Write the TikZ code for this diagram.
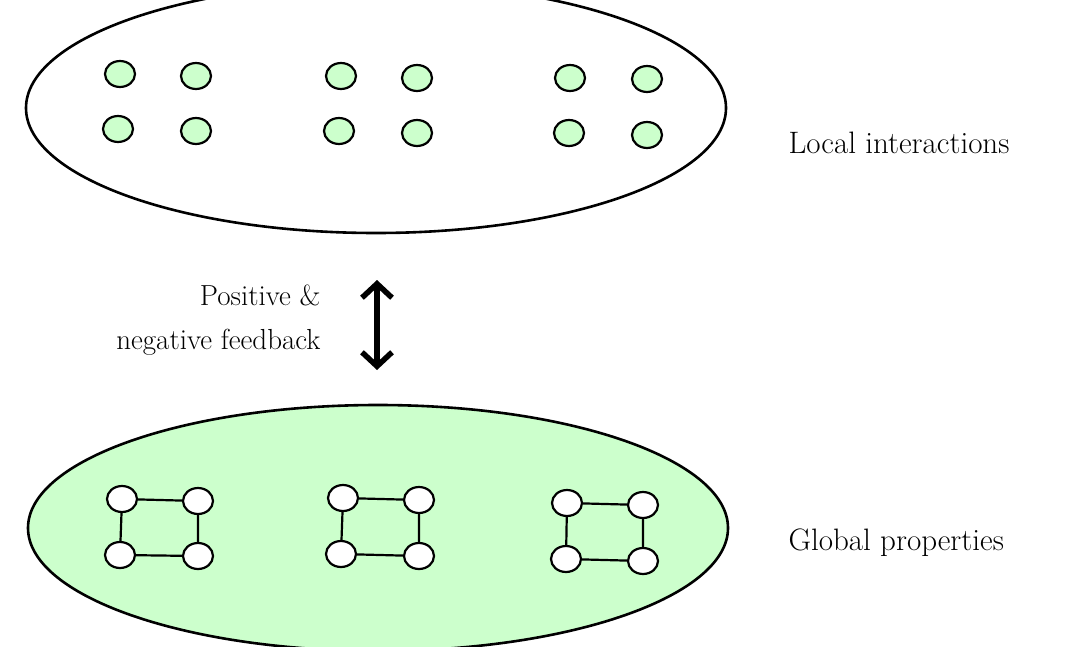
\documentclass[tikz,border=0pt]{standalone}
\usepackage{fontspec}
\usetikzlibrary{arrows.meta,shapes.geometric}
\begin{document}
\begin{tikzpicture}[x=1pt,y=-1pt,
  agent/.style={draw,line width=2.2pt,ellipse,minimum width=30pt,minimum height=26pt,inner sep=0pt},
  ring/.style={line width=2.2pt},
  lbl/.style={font=\fontsize{31}{36}\selectfont,anchor=base west}]
\useasboundingbox (0,0) rectangle (1070,647);
\clip (0,0) rectangle (1070,647);
\draw[line width=2.6pt,fill=white] (376,108) ellipse [x radius=350,y radius=125];
\draw[line width=2.6pt,fill=green!20] (378,528) ellipse [x radius=350,y radius=123];
\foreach \n/\x/\y in {a/120/74,b/196/76,c/341/76,d/417/78,e/570/78,f/647/79,
  g/118/129,h/196/131,i/339/131,j/417/133,k/569/133,l/647/135}
  \node[agent,fill=green!20] (t\n) at (\x,\y) {};
\foreach \g/\ax/\ay/\bx/\by/\cx/\cy/\dx/\dy in {1/122/499/198/501/120/555/198/556,
  2/343/498/419/500/341/554/419/556, 3/567/503/643/505/566/559/643/561}{
  \node[agent,fill=white] (p\g a) at (\ax,\ay) {};
  \node[agent,fill=white] (p\g b) at (\bx,\by) {};
  \node[agent,fill=white] (p\g c) at (\cx,\cy) {};
  \node[agent,fill=white] (p\g d) at (\dx,\dy) {};
  \draw[ring] (p\g a) -- (p\g b) -- (p\g d) -- (p\g c) -- (p\g a);
}
\coordinate (up) at (377,280);
\coordinate (dn) at (377,370);
\draw[line width=5.5pt,{Straight Barb[length=14pt,width=30pt]}-{Straight Barb[length=14pt,width=30pt]}] (up) -- (dn);
\node[lbl] (loc) at (785,154) {Local interactions};
\node[lbl] (glob) at (785,550) {Global properties};
\node[font=\fontsize{29}{44}\selectfont,align=right,anchor=east] (fb) at (324,320) {Positive \&\\negative feedback};
\end{tikzpicture}
\end{document}
